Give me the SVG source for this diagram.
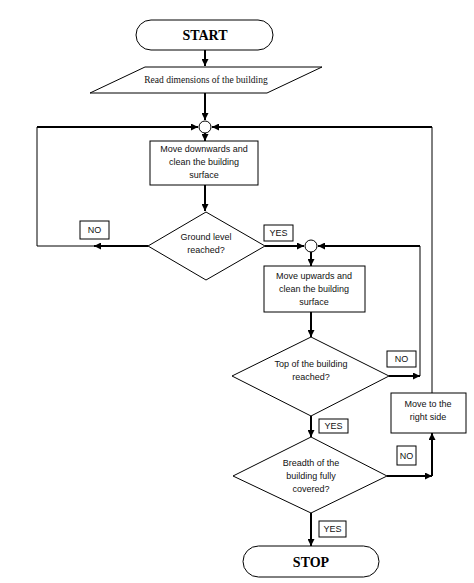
<svg xmlns="http://www.w3.org/2000/svg" width="474" height="583" viewBox="0 0 474 583">
<defs>
<marker id="ah" viewBox="0 0 10 10" refX="10" refY="5" markerWidth="7" markerHeight="7" markerUnits="userSpaceOnUse" orient="auto">
<path d="M0,0 L10,5 L0,10 z" fill="#000"/>
</marker>
<style>
.sh{fill:#fff;stroke:#000;stroke-width:1}
.lb{fill:#fff;stroke:#000;stroke-width:1}
.t{font-family:"Liberation Sans",Arial,sans-serif;font-size:9px;fill:#111;text-anchor:middle}
.term{font-family:"Liberation Serif","Times New Roman",serif;font-size:14px;font-weight:bold;fill:#000;text-anchor:middle}
.ser{font-family:"Liberation Serif","Times New Roman",serif;font-size:9.5px;fill:#111;text-anchor:middle}
.c{fill:none;stroke:#000;stroke-width:2}
.c1{fill:none;stroke:#000;stroke-width:1}
</style>
</defs>
<rect width="474" height="583" fill="#fff"/>
<g id="connectors">
<path class="c" d="M205,50 V66" marker-end="url(#ah)"/>
<path class="c" d="M205,93 V120" marker-end="url(#ah)"/>
<path class="c" d="M205,133 V141" marker-end="url(#ah)"/>
<path class="c" d="M205,185 V211" marker-end="url(#ah)"/>
<path class="c" d="M148,246 H94" marker-end="url(#ah)"/>
<path class="c1" d="M94,246 H37 V127"/>
<path class="c" d="M37,127 H198" marker-end="url(#ah)"/>
<path class="c" d="M265,246 H304" marker-end="url(#ah)"/>
<path class="c" d="M311,252 V266" marker-end="url(#ah)"/>
<path class="c" d="M311,312 V337" marker-end="url(#ah)"/>
<path class="c" d="M389,376 H420" marker-end="url(#ah)"/>
<path class="c1" d="M420,376 V246"/>
<path class="c" d="M420,246 H318" marker-end="url(#ah)"/>
<path class="c1" d="M432,393 V127"/>
<path class="c" d="M432,127 H212" marker-end="url(#ah)"/>
<path class="c" d="M311,416 V437" marker-end="url(#ah)"/>
<path class="c" d="M387,476 H432" marker-end="url(#ah)"/>
<path class="c" d="M432,476 V433" marker-end="url(#ah)"/>
<path class="c" d="M311,513 V546" marker-end="url(#ah)"/>
</g>
<g id="start">
<rect class="sh" x="136" y="20" width="137" height="30" rx="15" ry="15"/>
<text class="term" x="205" y="40">START</text>
</g>
<g id="read">
<polygon class="sh" points="145,67 322,67 267,93 90,93"/>
<text class="ser" x="206" y="83">Read dimensions of the building</text>
</g>
<g id="junction1">
<circle class="sh" cx="205" cy="127" r="6"/>
</g>
<g id="movedown">
<rect class="sh" x="150" y="141" width="108" height="44"/>
<text class="t" x="204" y="152">Move downwards and</text>
<text class="t" x="204" y="165">clean the building</text>
<text class="t" x="204" y="178">surface</text>
</g>
<g id="ground">
<polygon class="sh" points="206,212 265,246 206,280 148,246"/>
<text class="t" x="206" y="240">Ground level</text>
<text class="t" x="206" y="253">reached?</text>
</g>
<g id="no1">
<rect class="lb" x="80" y="221" width="29" height="18"/>
<text class="t" x="94.5" y="233">NO</text>
</g>
<g id="yes1">
<rect class="lb" x="264" y="225" width="29" height="16"/>
<text class="t" x="278.5" y="236">YES</text>
</g>
<g id="junction2">
<circle class="sh" cx="311" cy="246" r="6"/>
</g>
<g id="moveup">
<rect class="sh" x="264" y="266" width="101" height="46"/>
<text class="t" x="314" y="279">Move upwards and</text>
<text class="t" x="314" y="292">clean the building</text>
<text class="t" x="314" y="305">surface</text>
</g>
<g id="top">
<polygon class="sh" points="311,337 389,376 311,416 232,376"/>
<text class="t" x="311" y="367">Top of the building</text>
<text class="t" x="311" y="380">reached?</text>
</g>
<g id="no2">
<rect class="lb" x="387" y="351" width="29" height="16"/>
<text class="t" x="401.5" y="362">NO</text>
</g>
<g id="moveright">
<rect class="sh" x="391" y="393" width="75" height="40"/>
<text class="t" x="428" y="407">Move to the</text>
<text class="t" x="428" y="420">right side</text>
</g>
<g id="yes2">
<rect class="lb" x="319" y="419" width="29" height="14"/>
<text class="t" x="333.5" y="429">YES</text>
</g>
<g id="breadth">
<polygon class="sh" points="311,437 387,476 311,513 233,476"/>
<text class="t" x="311" y="466">Breadth of the</text>
<text class="t" x="311" y="479">building fully</text>
<text class="t" x="311" y="492">covered?</text>
</g>
<g id="no3">
<rect class="lb" x="397" y="446" width="19" height="19"/>
<text class="t" x="406.5" y="459">NO</text>
</g>
<g id="yes3">
<rect class="lb" x="319" y="521" width="27" height="16"/>
<text class="t" x="332.5" y="532">YES</text>
</g>
<g id="stop">
<rect class="sh" x="243" y="546" width="136" height="31" rx="15.5" ry="15.5"/>
<text class="term" x="311" y="567">STOP</text>
</g>
</svg>
